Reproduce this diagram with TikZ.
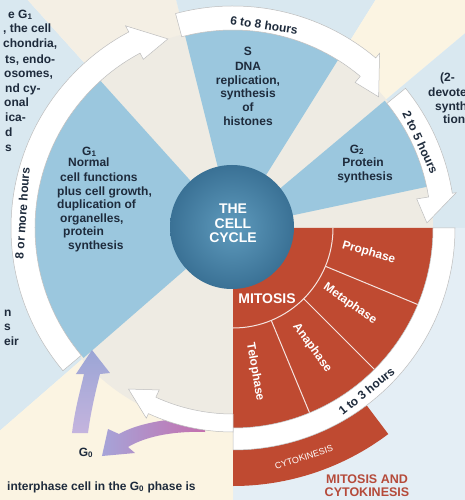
\documentclass[tikz,border=0pt]{standalone}
\usepackage{fontspec}
\setmainfont{Liberation Sans}
\definecolor{ink}{HTML}{1E2B3C}
\definecolor{blu}{HTML}{9BC7DE}
\definecolor{cream}{HTML}{EEEBE3}
\definecolor{brick}{HTML}{BF4A31}
\definecolor{brickt}{HTML}{B54A3A}
\definecolor{extblue}{HTML}{D9E8F0}
\definecolor{extblueb}{HTML}{E4EEF5}
\definecolor{extcream}{HTML}{F4EFE4}
\definecolor{extyel}{HTML}{FBF4E2}
\definecolor{bgwhite}{HTML}{F7F8F8}
\definecolor{ringline}{HTML}{BDBDBD}
\definecolor{ballin}{HTML}{5F9BBD}
\definecolor{ballout}{HTML}{3A7195}
\definecolor{lavtop}{HTML}{9BA5D5}
\definecolor{lavbot}{HTML}{C4B4DE}
\definecolor{pinkr}{HTML}{C46FAE}
\definecolor{lavl}{HTML}{A6A4D8}
\newcommand\mysect[3]{(0,0) -- (#1:#3) arc[start angle=#1,end angle=#2,radius=#3] -- cycle}
\newcommand\myannu[4]{(#1:#3) arc[start angle=#1,end angle=#2,radius=#3] -- (#2:#4) arc[start angle=#2,end angle=#1,radius=#4] -- cycle}
\newcommand\myrarrow[8]{(#1:#4) arc[start angle=#1,end angle=#2,radius=#4] -- (#2:#6) -- (#3:#8) -- (#2:#7) -- (#2:#5) arc[start angle=#2,end angle=#1,radius=#5] -- cycle}
\begin{document}
\begin{tikzpicture}[x=1pt,y=1pt]
\tikzset{
  txt/.style={inner sep=0pt, text=ink, text height=8.6pt, text depth=2.4pt, font=\bfseries\fontsize{12}{14}\selectfont},
  lt/.style={txt, anchor=west},
  wtxt/.style={txt, text=white},
  ringtxt/.style={txt},
  ringseg/.style={fill=white, draw=ringline, line width=0.5pt},
  redline/.style={draw=white!85!brick, line width=1pt}
}
\useasboundingbox (-233,-272) rectangle (232,228);
\clip (-233,-272) rectangle (232,228);
% background wedges
\fill[bgwhite] (-233,-272) rectangle (232,228);
\fill[extblue] \mysect{132}{221}{700pt};
\fill[extcream] \mysect{104}{132}{700pt};
\fill[extblue] \mysect{58}{104}{700pt};
\fill[extyel] \mysect{40}{58}{700pt};
\fill[extblue] \mysect{0}{40}{700pt};
\fill[extblueb] \mysect{-90}{0}{700pt};
\fill[extyel] \mysect{221}{270}{700pt};
% inner disc
\fill[cream] (0,0) circle[radius=200pt];
% blue sectors
\fill[blu] \mysect{132}{221}{198pt};
\fill[blu] \mysect{58}{104}{198pt};
\fill[blu] \mysect{12}{40}{198pt};
% mitosis quadrant
\fill[brick] \mysect{-90}{0}{200pt};
\draw[redline] (0:100pt) arc[start angle=0,end angle=-90,radius=100pt];
\draw[redline] (-22.5:100pt) -- (-22.5:200pt);
\draw[redline] (-45:100pt) -- (-45:200pt);
\draw[redline] (-67.5:100pt) -- (-67.5:200pt);
% cytokinesis band
\fill[brick] \myannu{-90}{-53}{222pt}{258pt};
% purple arrows
\shade[top color=lavtop, bottom color=lavbot]
  (-161,-205) .. controls (-158,-180) and (-152,-160) .. (-149,-146) -- (-157,-146) -- (-141,-122) -- (-123,-145) -- (-133,-146) .. controls (-137,-162) and (-142,-182) .. (-145,-205) -- cycle;
\shade[left color=lavl, right color=pinkr]
  (-28,-190) .. controls (-60,-189) and (-95,-195) .. (-114,-206) -- (-125,-201) -- (-131,-228) -- (-98,-225) -- (-105,-219) .. controls (-85,-207) and (-55,-203) .. (-28,-204) -- cycle;
% white ring segments
\filldraw[ringseg] \myrarrow{220}{118}{109}{198pt}{222pt}{191pt}{229pt}{200pt};
\filldraw[ringseg] \myrarrow{105}{50}{42}{198pt}{222pt}{190pt}{228pt}{196pt};
\filldraw[ringseg] \myrarrow{39}{9}{1.5}{198pt}{222pt}{186pt}{226pt}{194pt};
\filldraw[ringseg] \myannu{0}{-90}{200pt}{222pt};
\filldraw[ringseg] \myrarrow{-90}{-114.5}{-123}{186pt}{204pt}{178pt}{209pt}{192pt};
% central circle
\shade[inner color=ballin, outer color=ballout] (-1,1) circle[radius=62pt];
% centre text
\node[wtxt, font=\bfseries\fontsize{14}{15}\selectfont] (the) at (0,18) {THE};
\node[wtxt, font=\bfseries\fontsize{14}{15}\selectfont] (cell) at (0,3) {CELL};
\node[wtxt, font=\bfseries\fontsize{14}{15}\selectfont] (cyc) at (0,-11) {CYCLE};
% G1 text
\node[lt] (g1a) at (-151,76) {G\textsubscript{1}};
\node[lt] (g1b) at (-165,65) {Normal};
\node[lt] (g1c) at (-173,50) {cell functions};
\node[lt] (g1d) at (-176,36) {plus cell growth,};
\node[lt] (g1e) at (-176,23) {duplication of};
\node[lt] (g1f) at (-173,9) {organelles,};
\node[lt] (g1g) at (-170,-4) {protein};
\node[lt] (g1h) at (-165,-18) {synthesis};
% S text
\node[txt] (sa) at (15,176) {S};
\node[txt] (sb) at (15,161) {DNA};
\node[txt] (sc) at (15,147) {replication,};
\node[txt] (sd) at (15,134) {synthesis};
\node[txt] (se) at (15,120) {of};
\node[txt] (sf) at (15,106) {histones};
% G2 text
\node[txt] (g2a) at (124,78) {G\textsubscript{2}};
\node[txt] (g2b) at (130,65) {Protein};
\node[txt] (g2c) at (132,51) {synthesis};
% mitosis
\node[wtxt, font=\bfseries\fontsize{14}{15}\selectfont] (mit) at (34,-72) {MITOSIS};
\node[wtxt, rotate=-16] (pro) at (-10.4:138pt) {Prophase};
\node[wtxt, rotate=-35] (met) at (-33:139.5pt) {Metaphase};
\node[wtxt, rotate=-54] (ana) at (-56.6:143.7pt) {Anaphase};
\node[wtxt, rotate=-80] (tel) at (-81.3:145.7pt) {Telophase};
\node[wtxt, font=\fontsize{9}{10}\selectfont, rotate=18] (cyt) at (-72.8:240pt) {CYTOKINESIS};
% ring texts
\node[ringtxt, rotate=-9] (h68) at (81.3:204pt) {6 to 8 hours};
\node[ringtxt, rotate=-65] (h25) at (24.6:205pt) {2 to 5 hours};
\node[ringtxt, rotate=39] (h13) at (-50.7:212pt) {1 to 3 hours};
\node[ringtxt, rotate=86] (h8) at (176:210pt) {8 or more hours};
% G0
\node[txt] (g0) at (-147,-225) {G\textsubscript{0}};
\node[lt] (bot) at (-226,-259) {interphase cell in the G\textsubscript{0} phase is};
% red caption
\node[txt, text=brickt, font=\bfseries\fontsize{12.5}{13}\selectfont] (cap1) at (134,-252) {MITOSIS AND};
\node[txt, text=brickt, font=\bfseries\fontsize{12.5}{13}\selectfont] (cap2) at (134,-265) {CYTOKINESIS};
% left partial text
\node[lt] (l1) at (-225,213) {e G\textsubscript{1}};
\node[lt] (l2) at (-230,199) {, the cell};
\node[lt] (l3) at (-230,184) {chondria,};
\node[lt] (l4) at (-228,168) {ts, endo-};
\node[lt] (l5) at (-229,154) {osomes,};
\node[lt] (l6) at (-228,139) {nd cy-};
\node[lt] (l7) at (-229,125) {onal};
\node[lt] (l8) at (-228,110) {ica-};
\node[lt] (l9) at (-228,95) {d};
\node[lt] (l10) at (-228,80) {s};
\node[lt] (l11) at (-229,-85) {n};
\node[lt] (l12) at (-229,-99) {s};
\node[lt] (l13) at (-229,-114) {eir};
% right partial text
\node[lt] (r1) at (207,150) {(2-};
\node[lt] (r2) at (195,135) {devote};
\node[lt] (r3) at (202,121) {synth};
\node[lt] (r4) at (210,108) {tion};
\end{tikzpicture}
\end{document}
